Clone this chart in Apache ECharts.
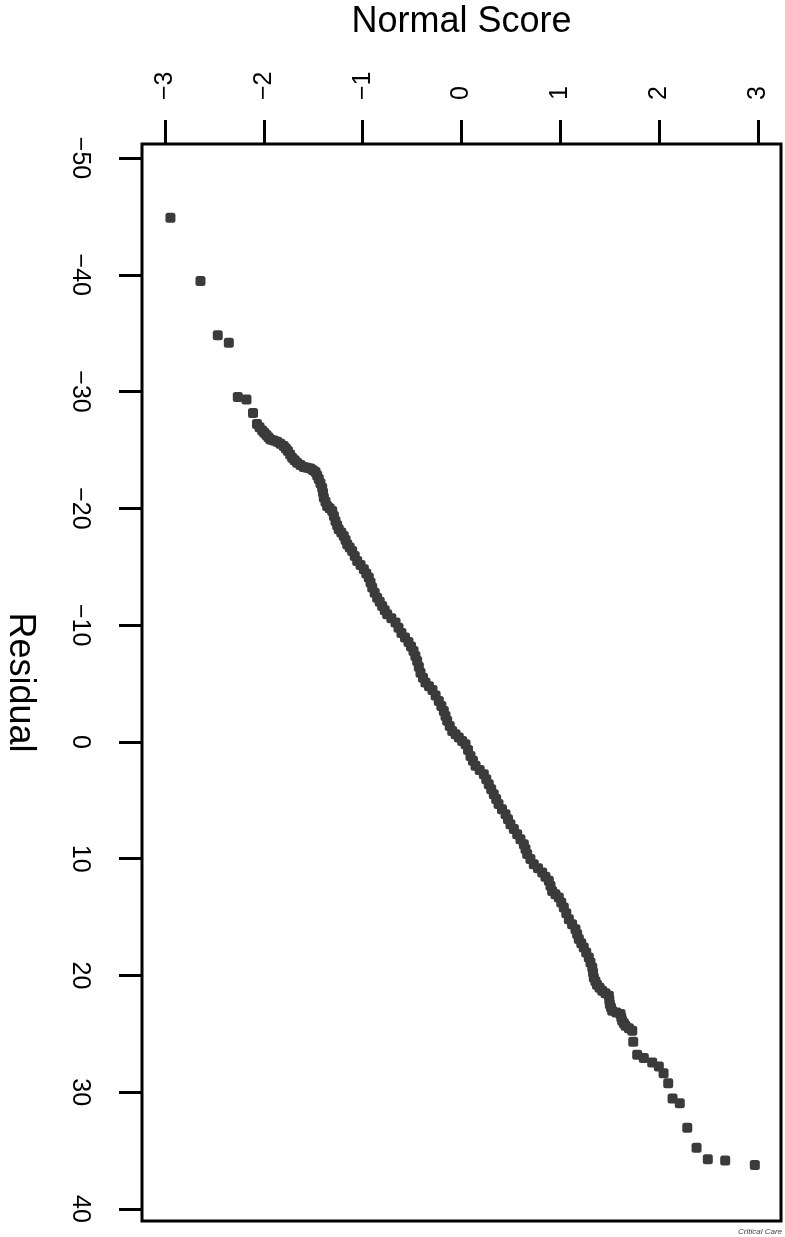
<!DOCTYPE html>
<html>
<head>
<meta charset="utf-8">
<script src="https://cdn.jsdelivr.net/npm/echarts@6/dist/echarts.min.js"></script>
<style>
html,body{margin:0;padding:0;background:#fff;}
#chart{width:785px;height:1237px;}
</style>
</head>
<body>
<div id="chart"></div>
<script>
// Normal score (horizontal axis) and residual (vertical axis) of each plotted point
const normalScores = [
 -2.947,-2.643,-2.468,-2.356,-2.265,-2.177,-2.111,-2.071,-2.045,-2.018,
 -1.997,-1.975,-1.955,-1.934,-1.900,-1.866,-1.833,-1.800,-1.778,-1.757,
 -1.735,-1.714,-1.689,-1.664,-1.630,-1.597,-1.563,-1.529,-1.503,-1.478,
 -1.461,-1.445,-1.428,-1.411,-1.402,-1.394,-1.377,-1.360,-1.335,-1.309,
 -1.292,-1.276,-1.259,-1.243,-1.217,-1.192,-1.174,-1.157,-1.132,-1.107,
 -1.081,-1.056,-1.022,-0.989,-0.964,-0.939,-0.921,-0.904,-0.879,-0.854,
 -0.828,-0.803,-0.777,-0.752,-0.710,-0.668,-0.638,-0.608,-0.572,-0.537,
 -0.511,-0.486,-0.467,-0.449,-0.432,-0.415,-0.390,-0.365,-0.329,-0.294,
 -0.262,-0.230,-0.204,-0.179,-0.162,-0.145,-0.119,-0.094,-0.060,-0.027,
 0.007,0.041,0.066,0.091,0.116,0.142,0.184,0.226,0.251,0.276,
 0.301,0.327,0.351,0.375,0.410,0.446,0.471,0.496,0.530,0.564,
 0.597,0.631,0.648,0.665,0.698,0.732,0.775,0.817,0.850,0.884,
 0.901,0.918,0.951,0.985,1.010,1.036,1.061,1.087,1.120,1.154,
 1.171,1.188,1.213,1.238,1.263,1.289,1.306,1.324,1.332,1.340,
 1.356,1.372,1.398,1.425,1.458,1.492,1.497,1.502,1.514,1.526,
 1.568,1.610,1.618,1.627,1.644,1.661,1.695,1.729,1.739,1.779,
 1.846,1.931,1.998,2.046,2.093,2.137,2.210,2.286,2.380,2.494,
 2.670,2.970
];
const residuals = [
 -44.89,-39.47,-34.82,-34.19,-29.54,-29.31,-28.17,-27.23,-26.95,-26.67,
 -26.48,-26.28,-26.09,-25.90,-25.80,-25.71,-25.53,-25.34,-25.12,-24.91,
 -24.62,-24.34,-24.12,-23.91,-23.72,-23.54,-23.48,-23.42,-23.27,-23.12,
 -22.82,-22.52,-22.15,-21.77,-21.35,-20.92,-20.56,-20.21,-20.00,-19.78,
 -19.35,-18.92,-18.56,-18.21,-17.92,-17.64,-17.28,-16.93,-16.64,-16.35,
 -15.92,-15.50,-15.14,-14.79,-14.43,-14.07,-13.64,-13.21,-12.78,-12.35,
 -12.00,-11.64,-11.28,-10.93,-10.58,-10.23,-9.78,-9.33,-8.94,-8.56,
 -8.17,-7.79,-7.36,-6.93,-6.43,-5.93,-5.50,-5.08,-4.76,-4.45,
 -3.98,-3.51,-3.08,-2.65,-2.22,-1.80,-1.37,-0.94,-0.65,-0.37,
 -0.08,0.20,0.70,1.20,1.62,2.05,2.41,2.77,3.19,3.62,
 4.05,4.48,4.90,5.33,5.76,6.19,6.62,7.05,7.47,7.90,
 8.33,8.76,9.18,9.61,10.04,10.47,10.83,11.19,11.55,11.90,
 12.33,12.76,13.05,13.33,13.76,14.19,14.68,15.18,15.61,16.04,
 16.46,16.89,17.25,17.61,18.04,18.47,18.90,19.32,19.75,20.18,
 20.49,20.80,21.06,21.32,21.53,21.75,22.10,22.46,22.74,23.03,
 23.17,23.31,23.60,23.89,24.10,24.32,24.53,24.74,25.68,26.80,
 27.08,27.46,27.80,28.38,29.24,30.54,30.95,33.05,34.76,35.74,
 35.85,36.24
];
const scoreTicks = [-3,-2,-1,0,1,2,3];
const residualTicks = [-50,-40,-30,-20,-10,0,10,20,30,40];

const points = normalScores.map((s,i)=>[s,residuals[i]]);
const fmt = v => (v<0 ? '\u2212'+Math.abs(v) : String(v));
const FONT = 'Liberation Sans';

const chart = echarts.init(document.getElementById('chart'), null, {renderer:'canvas'});
chart.setOption({
  animation:false,
  backgroundColor:'#fff',
  grid:{left:142, top:144, width:639, height:1077, show:true, borderColor:'#000', borderWidth:3, backgroundColor:'transparent', containLabel:false, outerBoundsMode:'none'},
  xAxis:{
    type:'value', position:'top', min:-3.235, max:3.235,
    name:'Normal Score', nameLocation:'middle', nameGap:104,
    nameTextStyle:{fontSize:36, color:'#000', fontFamily:FONT},
    axisLine:{show:false, onZero:false},
    splitLine:{show:false},
    axisTick:{show:true, inside:false, length:24, lineStyle:{color:'#000', width:3}, customValues:scoreTicks},
    axisLabel:{show:true, customValues:scoreTicks, rotate:-90, margin:44, fontSize:25, color:'#000', fontFamily:FONT, formatter:fmt}
  },
  yAxis:{
    type:'value', inverse:true, min:-51.2, max:41.03,
    name:'Residual', nameLocation:'middle', nameGap:104, nameRotate:-90,
    nameTextStyle:{fontSize:36, color:'#000', fontFamily:FONT},
    axisLine:{show:false, onZero:false},
    splitLine:{show:false},
    axisTick:{show:true, inside:false, length:23, lineStyle:{color:'#000', width:3}, customValues:residualTicks},
    axisLabel:{show:true, customValues:residualTicks, rotate:-90, margin:50, fontSize:25, color:'#000', fontFamily:FONT, formatter:fmt}
  },
  graphic:[{type:'text', right:3, top:1228, style:{text:'Critical Care', font:'italic 8px "Liberation Sans"', fill:'#444'}}],
  series:[{
    type:'scatter', data:points, symbol:'roundRect', symbolSize:10,
    itemStyle:{color:'#3b3b3b', opacity:1}, emphasis:{disabled:true}
  }]
});
</script>
</body>
</html>
